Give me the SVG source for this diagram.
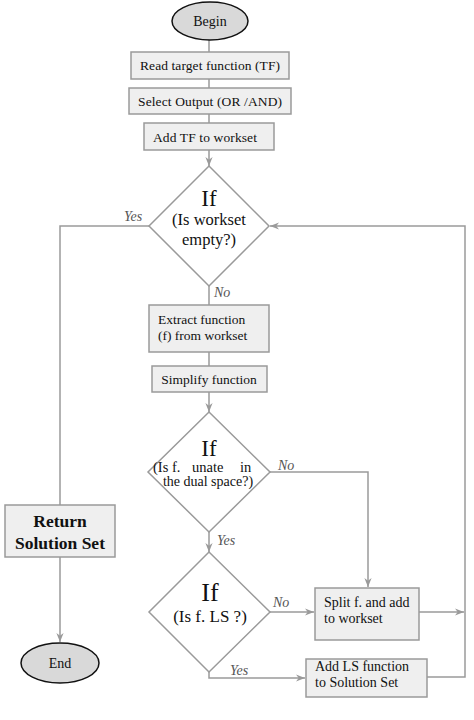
<svg xmlns="http://www.w3.org/2000/svg" width="474" height="720" viewBox="0 0 474 720">
<style>
  text { font-family: "Liberation Serif", "Times New Roman", serif; fill: #111; }
  .box { fill: #efefef; stroke: #9a9a9a; stroke-width: 1.5; }
  .oval { fill: #d9d9d9; stroke: #111; stroke-width: 1.5; }
  .dia { fill: #ffffff; stroke: #9a9a9a; stroke-width: 1.5; }
  .ln { fill: none; stroke: #9a9a9a; stroke-width: 1.5; }
  .lbl { font-style: italic; fill: #555; font-size: 14px; }
  .t13 { font-size: 13.5px; }
</style>
<defs>
  <marker id="ah" viewBox="0 0 10 10" refX="10" refY="5" markerWidth="9" markerHeight="9" markerUnits="userSpaceOnUse" orient="auto">
    <path d="M0,1 L10,5 L0,9 L3,5 Z" fill="#9a9a9a"/>
  </marker>
</defs>

<g id="connectors">
  <line class="ln" x1="209" y1="40" x2="209" y2="52"/>
  <line class="ln" x1="209" y1="79" x2="209" y2="88"/>
  <line class="ln" x1="209" y1="114" x2="209" y2="123"/>
  <line class="ln" x1="209" y1="150" x2="209" y2="166" marker-end="url(#ah)"/>
  <polyline class="ln" points="149,226 60,226 60,505"/>
  <line class="ln" x1="60" y1="557" x2="60" y2="642" marker-end="url(#ah)"/>
  <line class="ln" x1="209" y1="286" x2="209" y2="305"/>
  <line class="ln" x1="209" y1="352" x2="209" y2="366"/>
  <line class="ln" x1="209" y1="392" x2="209" y2="412" marker-end="url(#ah)"/>
  <polyline class="ln" points="270,472 368,472 368,587" marker-end="url(#ah)"/>
  <line class="ln" x1="209" y1="532" x2="209" y2="552" marker-end="url(#ah)"/>
  <line class="ln" x1="270" y1="612" x2="314" y2="612" marker-end="url(#ah)"/>
  <line class="ln" x1="419" y1="612" x2="464" y2="612" marker-end="url(#ah)"/>
  <polyline class="ln" points="209,671 209,678 305,678" marker-end="url(#ah)"/>
  <polyline class="ln" points="427,677 465,677 465,226 270,226" marker-end="url(#ah)"/>
  <text class="lbl" x="124" y="221">Yes</text>
  <text class="lbl" x="214" y="297">No</text>
  <text class="lbl" x="278" y="470">No</text>
  <text class="lbl" x="217" y="545">Yes</text>
  <text class="lbl" x="273" y="607">No</text>
  <text class="lbl" x="230" y="675">Yes</text>
</g>

<g id="begin">
  <ellipse class="oval" cx="210" cy="21" rx="38" ry="19"/>
  <text x="210" y="26" text-anchor="middle" font-size="14">Begin</text>
</g>
<g id="read">
  <rect class="box" x="131" y="52" width="158" height="27"/>
  <text class="t13" x="210" y="70" text-anchor="middle" textLength="140">Read target function (TF)</text>
</g>
<g id="select">
  <rect class="box" x="129" y="88" width="162" height="26"/>
  <text class="t13" x="210" y="106" text-anchor="middle" textLength="144">Select Output (OR /AND)</text>
</g>
<g id="addtf">
  <rect class="box" x="144" y="123" width="130" height="27"/>
  <text class="t13" x="205" y="142" text-anchor="middle" textLength="104">Add TF to workset</text>
</g>
<g id="if-empty">
  <polygon class="dia" points="209,166 269,226 209,286 149,226"/>
  <text x="209" y="206" text-anchor="middle" font-size="23">If</text>
  <text x="209" y="225" text-anchor="middle" font-size="16.5">(Is workset</text>
  <text x="209" y="245" text-anchor="middle" font-size="16.5">empty?)</text>
</g>
<g id="extract">
  <rect class="box" x="149" y="305" width="120" height="47"/>
  <text class="t13" x="158" y="324">Extract function</text>
  <text class="t13" x="158" y="340">(f)  from workset</text>
</g>
<g id="simplify">
  <rect class="box" x="152" y="366" width="115" height="26"/>
  <text class="t13" x="209" y="384" text-anchor="middle">Simplify function</text>
</g>
<g id="if-unate">
  <polygon class="dia" points="209,412 270,472 209,532 148,472"/>
  <text x="209" y="456" text-anchor="middle" font-size="23">If</text>
  <text x="153" y="472" font-size="14.5">(Is f.<tspan x="192">unate</tspan><tspan x="240">in</tspan></text>
  <text x="208" y="486" font-size="14" text-anchor="middle">the dual space?)</text>
</g>
<g id="if-ls">
  <polygon class="dia" points="209,552 270,612 209,672 149,612"/>
  <text x="210" y="601" text-anchor="middle" font-size="26">If</text>
  <text x="210" y="622" text-anchor="middle" font-size="17">(Is f. LS ?)</text>
</g>
<g id="split">
  <rect class="box" x="315" y="588" width="104" height="52"/>
  <text x="324" y="607" font-size="14">Split f. and add</text>
  <text x="324" y="623" font-size="14">to workset</text>
</g>
<g id="addls">
  <rect class="box" x="306" y="659" width="121" height="38"/>
  <text x="315" y="671" font-size="14">Add LS function</text>
  <text x="315" y="687" font-size="14">to Solution Set</text>
</g>
<g id="return">
  <rect class="box" x="5" y="505" width="110" height="52"/>
  <text x="60" y="527" text-anchor="middle" font-size="17.5" font-weight="bold">Return</text>
  <text x="60" y="549" text-anchor="middle" font-size="17.5" font-weight="bold">Solution Set</text>
</g>
<g id="end">
  <ellipse class="oval" cx="60" cy="663" rx="39" ry="20"/>
  <text x="60" y="668" text-anchor="middle" font-size="14">End</text>
</g>
</svg>
